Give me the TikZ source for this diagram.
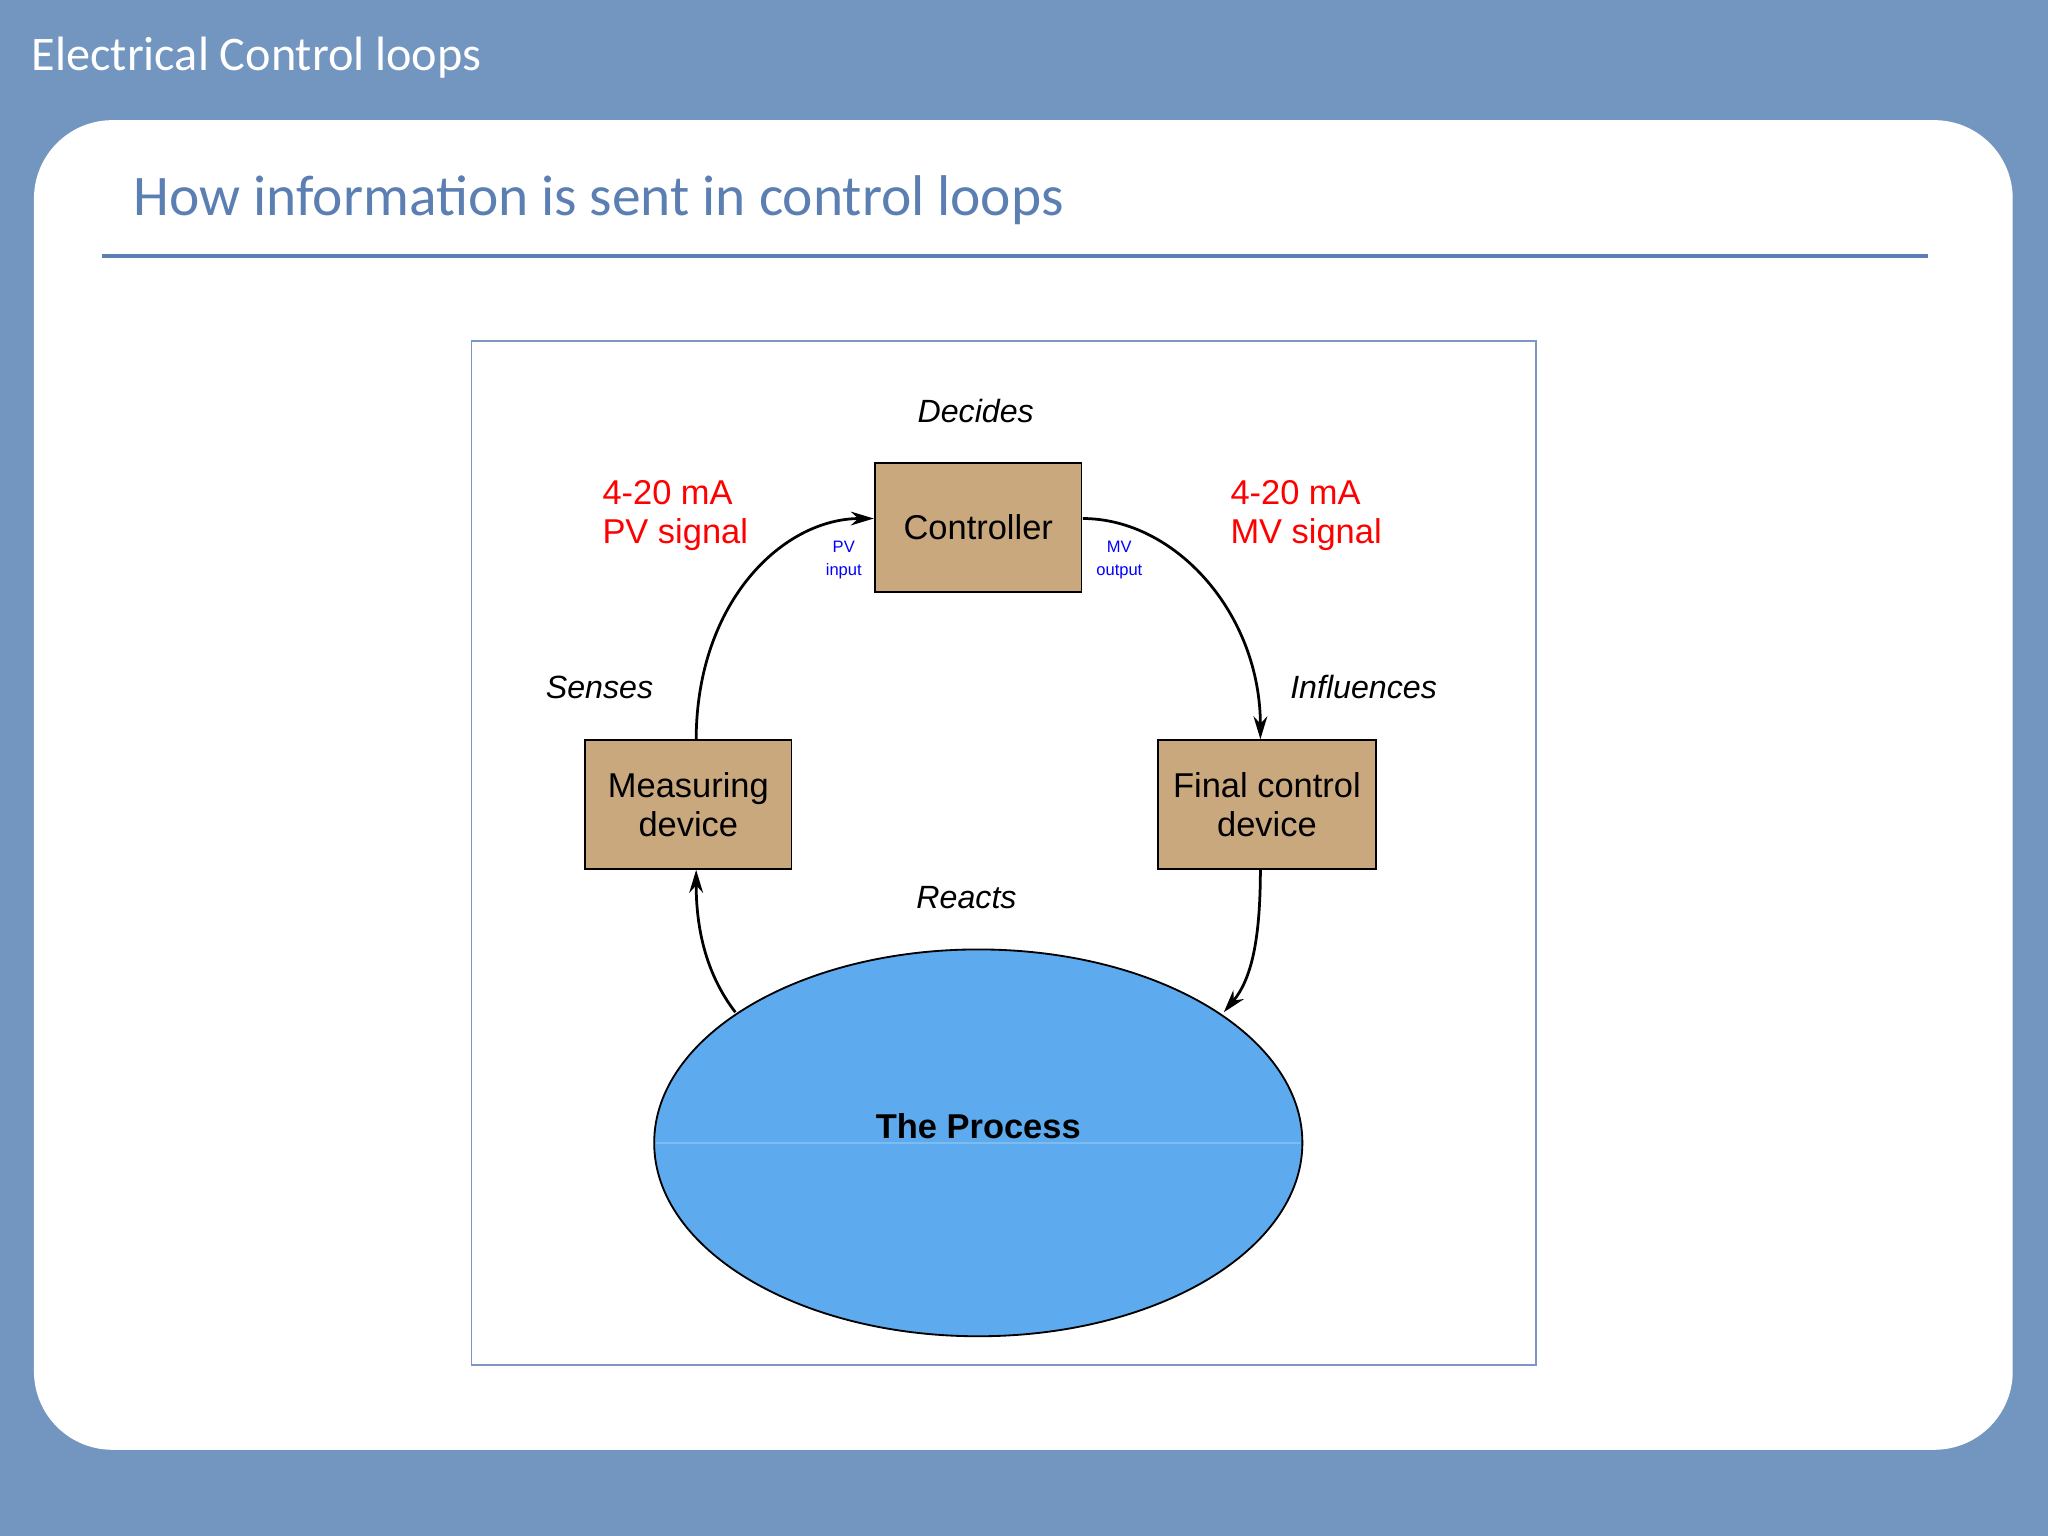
\documentclass[tikz,border=0pt]{standalone}
\usepackage{fontspec}
\setmainfont{Liberation Sans}
\newfontfamily\calfont{Carlito}
\usetikzlibrary{arrows.meta,shapes.geometric}
\definecolor{bg}{HTML}{7396C1}
\definecolor{sub}{HTML}{5B7FB2}
\definecolor{tan}{HTML}{C9A87E}
\definecolor{proc}{HTML}{5DABEE}
\tikzset{box/.style={draw=black,fill=tan,minimum width=1.58cm,minimum height=0.99cm,align=center,font=\fontsize{7.5}{8.5}\selectfont},
lab/.style={font=\fontsize{7}{8}\selectfont\itshape},
red/.style={text=red,align=left,font=\fontsize{7.5}{8.5}\selectfont},
tiny/.style={text=blue,align=center,font=\fontsize{3.6}{5}\selectfont},
arr/.style={-{Stealth[length=5pt,width=3pt]},semithick}}
\begin{document}
\begin{tikzpicture}[x=0.01cm,y=-0.01cm]
\fill[bg] (0,0) rectangle (1568,1176);
\fill[white,rounded corners=0.6cm] (26,92) rectangle (1541,1110);
\node[anchor=west,text=white,font=\calfont\fontsize{10.5}{12}\selectfont] (t) at (12,44) {Electrical Control loops};
\node[anchor=west,text=sub,font=\calfont\fontsize{12.5}{14}\selectfont] (s) at (90,153) {How information is sent in control loops};
\draw[sub,thick] (78,196) -- (1476,196);
\draw[sub!80] (361,261) rectangle (1176,1045);
\node[box] (c) at (749,404) {Controller};
\node[box] (m) at (527,616) {Measuring\\device};
\node[box] (f) at (970,616) {Final control\\device};
\node[draw=black,fill=proc,ellipse,minimum width=4.96cm,minimum height=2.96cm,inner sep=0pt] (p) at (749,875) {};
\draw[proc!80!white] (502,875) -- (996,875);
\node[font=\fontsize{7.5}{8.5}\selectfont\bfseries] (pt) at (749,862) {The Process};
\node[lab] (d) at (747,315) {Decides};
\node[lab] (se) at (459,526) {Senses};
\node[lab] (in) at (1044,526) {Influences};
\node[lab] (r) at (740,687) {Reacts};
\node[red] (r1) at (517,395) {4-20 mA\\PV signal};
\node[red] (r2) at (1000,395) {4-20 mA\\MV signal};
\node[tiny] (b1) at (646,429) {PV\\input};
\node[tiny] (b2) at (857,429) {MV\\output};
\coordinate (ma) at (533,567); \coordinate (ca) at (669,397);
\coordinate (cb) at (829,397); \coordinate (fa) at (965,566);
\coordinate (fb) at (965,665); \coordinate (pe) at (937,775);
\coordinate (pw) at (563,775); \coordinate (mb) at (533,666);
\draw[arr] (ma) .. controls (533,460) and (600,397) .. (ca);
\draw[arr] (cb) .. controls (900,397) and (965,470) .. (fa);
\draw[arr] (fb) .. controls (965,720) and (958,750) .. (pe);
\draw[arr] (pw) .. controls (540,745) and (533,710) .. (mb);
\end{tikzpicture}
\end{document}
